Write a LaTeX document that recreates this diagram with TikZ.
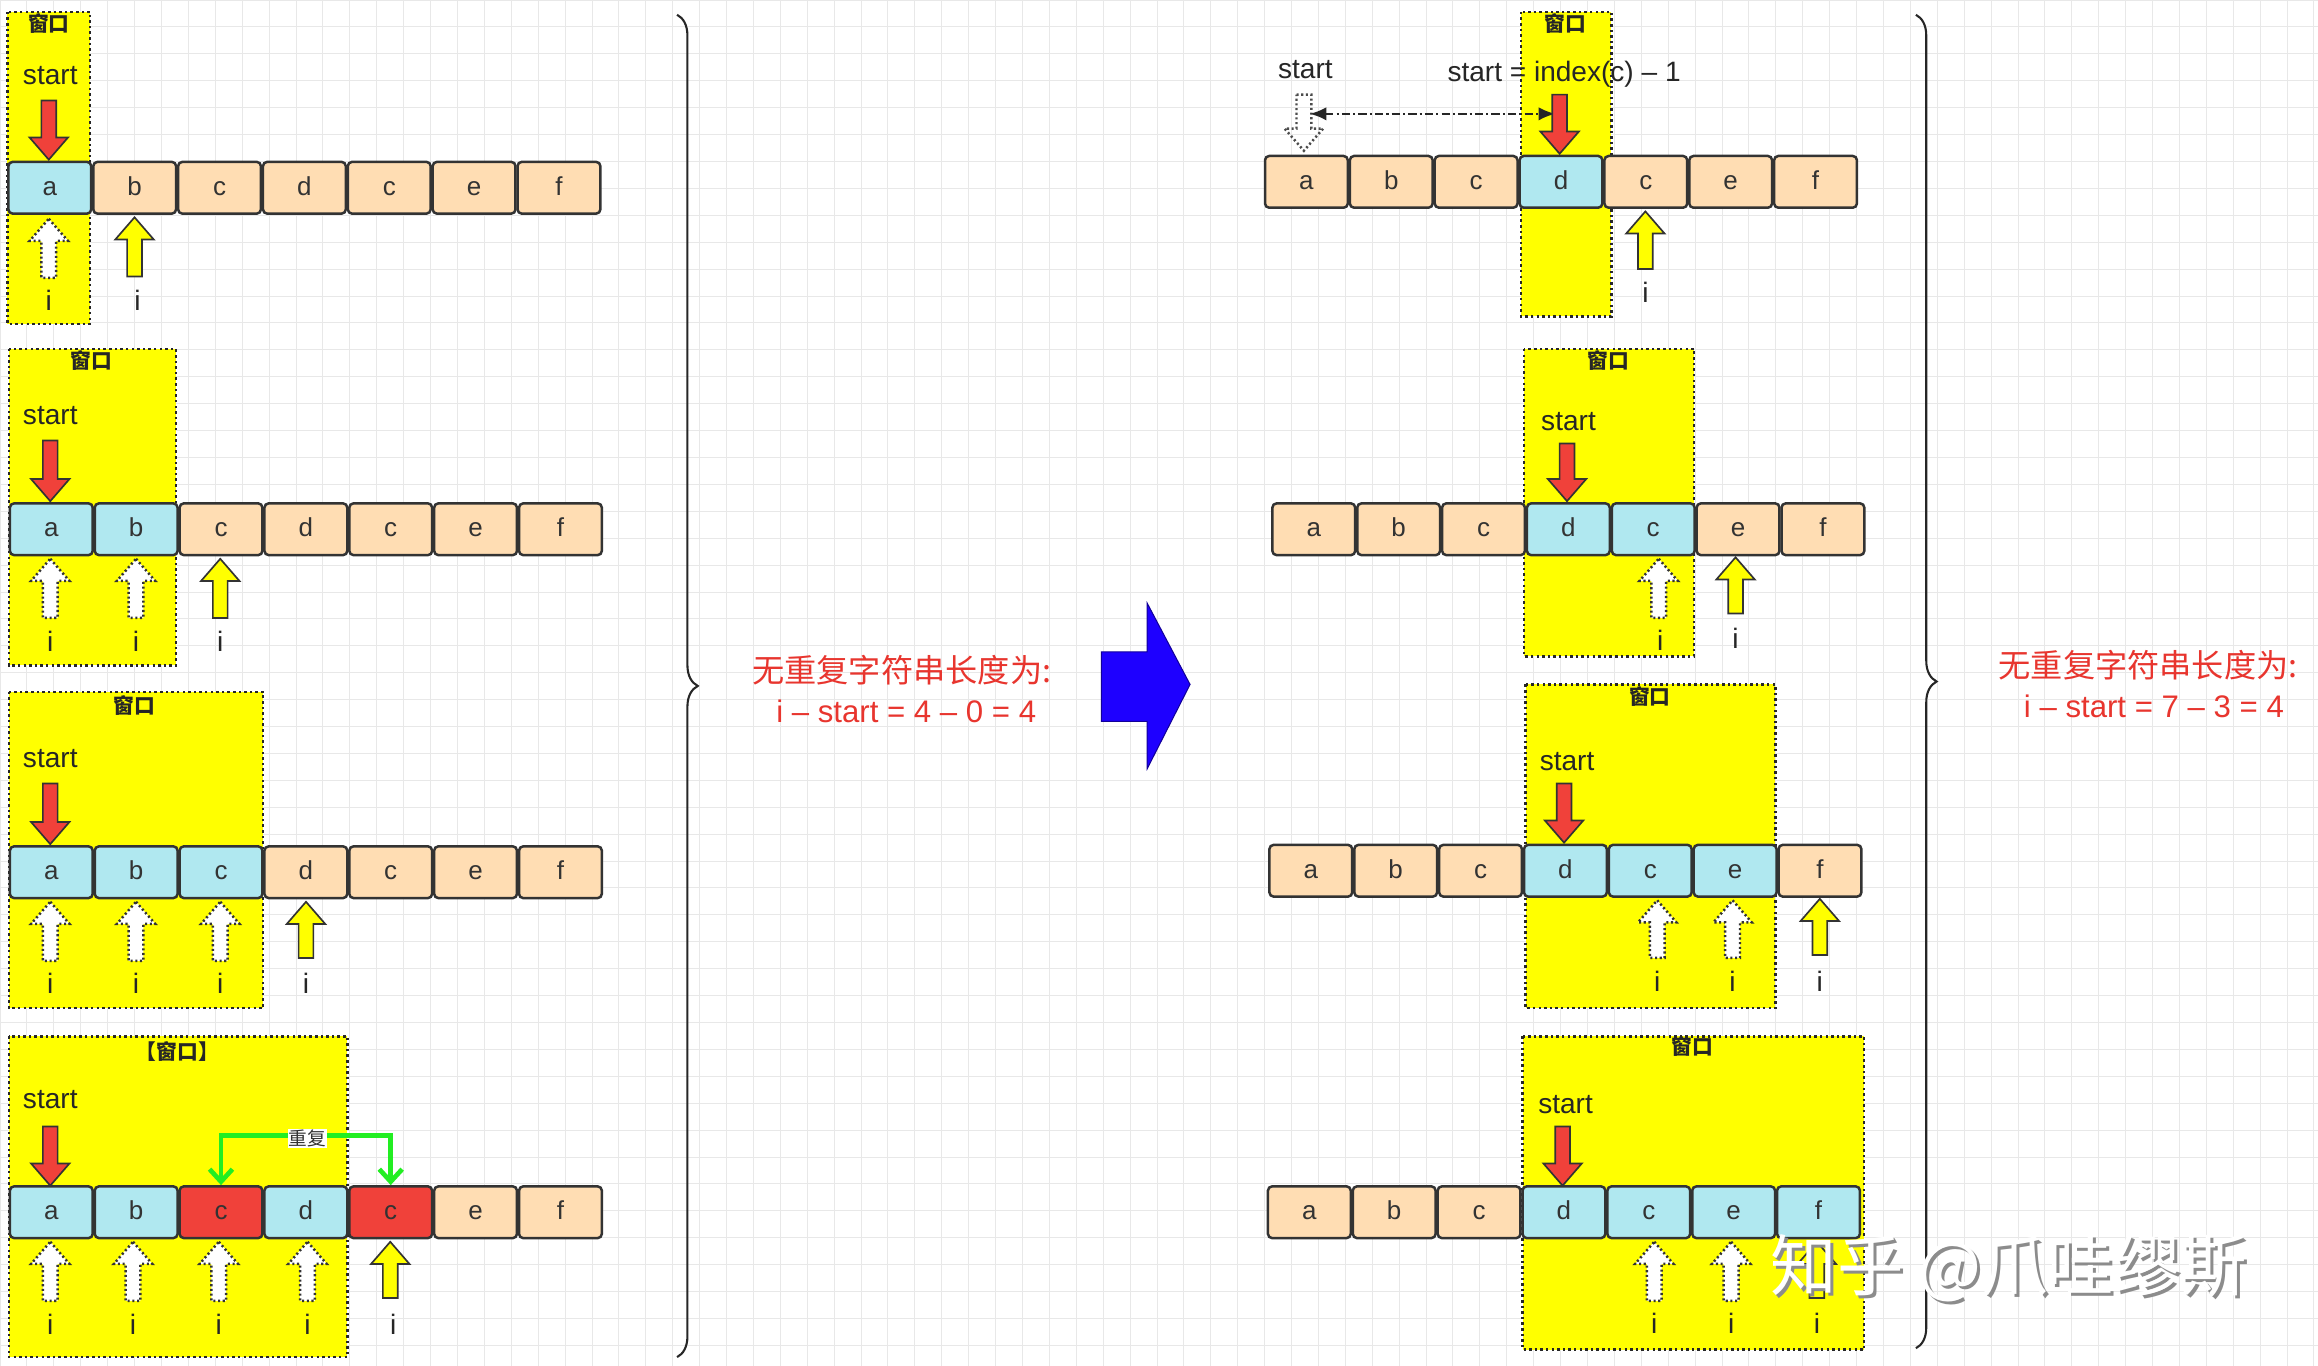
\documentclass[tikz,border=0pt]{standalone}
\usepackage{fontspec}
\setmainfont{Liberation Sans}
\newfontfamily\cjk{Noto Sans CJK SC}
\usetikzlibrary{arrows.meta,decorations.pathreplacing}
\definecolor{pe}{HTML}{FFDDB3}
\definecolor{bl}{HTML}{B0E8F0}
\definecolor{rd}{HTML}{F0413A}
\definecolor{yl}{HTML}{FFFF00}
\definecolor{gn}{HTML}{22EE22}
\definecolor{bu}{HTML}{1E00FF}
\definecolor{tx}{HTML}{E8352E}
\tikzset{
 cell/.style={draw=black!80,line width=2.4pt,rounded corners=4pt,minimum width=2.8cm,minimum height=1.75cm,inner sep=0pt,font=\fontsize{25}{27}\selectfont,text=black!80,text height=0.5cm,text depth=0cm},
 win/.style={fill=yl,draw=black!85,line width=2.4pt,dash pattern=on 2.4pt off 3pt},
 lbl/.style={font=\fontsize{27}{29}\selectfont,text=black!85,inner sep=0pt},
 wl/.style={font=\cjk\bfseries\fontsize{20}{22}\selectfont,text=black!85,inner sep=0pt},
 redtx/.style={font=\cjk\fontsize{31}{33}\selectfont,text=tx,inner sep=0pt},
 redeq/.style={font=\fontsize{30}{32}\selectfont,text=tx,inner sep=0pt},
 redar/.style={fill=rd,draw=black!80,line width=1.6pt},
 ylar/.style={fill=yl,draw=black!80,line width=1.6pt},
 whar/.style={fill=white,draw=black!80,line width=2.4pt,dash pattern=on 2pt off 2.5pt},
 dtar/.style={draw=black!70,line width=2.4pt,dash pattern=on 2pt off 2.5pt},
 grar/.style={gn,line width=4.5pt,-{Straight Barb[length=12pt,width=22pt]}},
 wm/.style={font=\cjk\fontsize{64}{66}\selectfont,inner sep=0pt},
}
\newcommand\downar[4]{\draw[#4] ({#1-5},#2)--({#1+5},#2)--({#1+5},{#3-15})--({#1+13},{#3-15})--(#1,#3)--({#1-13},{#3-15})--({#1-5},{#3-15})--cycle;}
\newcommand\upar[4]{\draw[#4] (#1,#2)--({#1+13},{#2+15})--({#1+5},{#2+15})--({#1+5},#3)--({#1-5},#3)--({#1-5},{#2+15})--({#1-13},{#2+15})--cycle;}
\newcommand\arow[4]{\foreach \l/\c [count=\k] in {#4} {\node[cell,fill=\c] (#1\k) at ({#2+28.7+(\k-1)*57.4},#3) {\l};}}
\begin{document}
\begin{tikzpicture}[x=0.05cm,y=-0.05cm]
\useasboundingbox (0,0) rectangle (1568,924);
\fill[white] (0,0) rectangle (1568,924);
\foreach \g in {0,18.2,...,1568} \draw[black!9,line width=0.8pt] (\g,0)--(\g,924);
\foreach \g in {0,18.2,...,924} \draw[black!9,line width=0.8pt] (0,\g)--(1568,\g);
% ---------- left panels
\draw[win] (5,8) rectangle (61,219);
\draw[win] (6,236) rectangle (119,450);
\draw[win] (6,468) rectangle (178,682);
\draw[win] (6,701) rectangle (235,918);
\node[wl] (w1) at (33,16) {窗口};
\node[wl] (w2) at (62,244) {窗口};
\node[wl] (w3) at (91,477) {窗口};
\node[wl] (w4) at (120,711) {【窗口】};
\arow{La}{5}{127}{a/bl,b/pe,c/pe,d/pe,c/pe,e/pe,f/pe}
\arow{Lb}{6}{358}{a/bl,b/bl,c/pe,d/pe,c/pe,e/pe,f/pe}
\arow{Lc}{6}{590}{a/bl,b/bl,c/bl,d/pe,c/pe,e/pe,f/pe}
\arow{Ld}{6}{820}{a/bl,b/bl,c/rd,d/bl,c/rd,e/pe,f/pe}
\node[lbl] (s1) at (34,51) {start};
\node[lbl] (s2) at (34,281) {start};
\node[lbl] (s3) at (34,513) {start};
\node[lbl] (s4) at (34,744) {start};
\downar{33}{68}{108}{redar}
\downar{34}{298}{339}{redar}
\downar{34}{530}{571}{redar}
\downar{34}{762}{802}{redar}
\upar{33}{148}{188}{whar} \node[lbl] (i11) at (33,203) {i};
\upar{91}{147}{187}{ylar} \node[lbl] (i12) at (93,203) {i};
\foreach \x in {34,92} {\upar{\x}{378}{418}{whar}}
\upar{149}{378}{418}{ylar}
\node[lbl] at (34,434) {i}; \node[lbl] at (92,434) {i}; \node[lbl] at (149,434) {i};
\foreach \x in {34,92,149} {\upar{\x}{610}{650}{whar} \node[lbl] at (\x,665) {i};}
\upar{207}{610}{648}{ylar} \node[lbl] at (207,665) {i};
\foreach \x in {34,90,148,208} {\upar{\x}{840}{880}{whar} \node[lbl] at (\x,896) {i};}
\upar{264}{840}{878}{ylar} \node[lbl] at (266,896) {i};
\draw[grar] (208,768) -| (Ld3.north);
\draw[grar] (208,768) -| (Ld5.north);
\node[fill=white,inner sep=1pt,font=\cjk\fontsize{18}{20}\selectfont,text=black!80] (rep) at (208,770) {重复};
% braces
\draw[black!85,line width=2pt,decorate,decoration={brace,amplitude=0.7cm}] (458,10)--(458,918);
\draw[black!85,line width=2pt,decorate,decoration={brace,amplitude=0.7cm}] (1296,10)--(1296,912);
\node[redtx] (t1) at (610,453) {无重复字符串长度为:};
\node[redeq] (t2) at (613,481) {i – start = 4 – 0 = 4};
\node[redtx] (t3) at (1453,450) {无重复字符串长度为:};
\node[redeq] (t4) at (1457,478) {i – start = 7 – 3 = 4};
\draw[fill=bu,draw=bu!60!black,line width=1pt] (745,441)--(776,441)--(776,408)--(805,463)--(776,520)--(776,488)--(745,488)--cycle;
% ---------- right panels
\draw[win] (1029,8) rectangle (1090,214);
\draw[win] (1031,236) rectangle (1146,444);
\draw[win] (1032,463) rectangle (1201,682);
\draw[win] (1030,701) rectangle (1261,913);
\node[wl] at (1059,16) {窗口};
\node[wl] at (1088,244) {窗口};
\node[wl] at (1116,471) {窗口};
\node[wl] at (1145,708) {窗口};
\arow{Ra}{855}{123}{a/pe,b/pe,c/pe,d/bl,c/pe,e/pe,f/pe}
\arow{Rb}{860}{358}{a/pe,b/pe,c/pe,d/bl,c/bl,e/pe,f/pe}
\arow{Rc}{858}{589}{a/pe,b/pe,c/pe,d/bl,c/bl,e/bl,f/pe}
\arow{Rd}{857}{820}{a/pe,b/pe,c/pe,d/bl,c/bl,e/bl,f/bl}
\node[lbl] at (883,47) {start};
\node[lbl] at (1058,50) {start = index(c) – 1};
\downar{882}{64}{102}{dtar}
\coordinate (da) at (886,77); \coordinate (db) at (1052,77);
\draw[black!85,line width=2.4pt,dash pattern=on 8pt off 3pt on 2pt off 3pt,{Latex[length=16pt,width=13pt]}-{Latex[length=16pt,width=13pt]}] (da)--(db);
\downar{1055}{64}{104}{redar}
\upar{1113}{143}{182}{ylar} \node[lbl] at (1113,198) {i};
\node[lbl] at (1061,285) {start};
\downar{1060}{300}{339}{redar}
\upar{1122}{378}{418}{whar} \node[lbl] at (1123,433) {i};
\upar{1174}{377}{415}{ylar} \node[lbl] at (1174,432) {i};
\node[lbl] at (1060,515) {start};
\downar{1058}{530}{570}{redar}
\foreach \x in {1121,1172} {\upar{\x}{609}{648}{whar} \node[lbl] at (\x,664) {i};}
\upar{1231}{608}{646}{ylar} \node[lbl] at (1231,664) {i};
\node[lbl] at (1059,747) {start};
\downar{1057}{762}{802}{redar}
\foreach \x in {1119,1171} {\upar{\x}{840}{880}{whar} \node[lbl] at (\x,895) {i};}
\upar{1229}{840}{878}{ylar} \node[lbl] at (1229,895) {i};
% watermark
\node[wm,text=black!45] at (1361,860) {知乎 @爪哇缪斯};
\node[wm,text=white] at (1359,858) {知乎 @爪哇缪斯};
\end{tikzpicture}
\end{document}
